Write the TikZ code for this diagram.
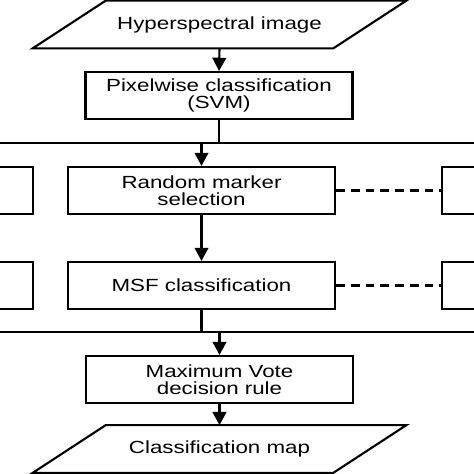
\documentclass[tikz,border=0pt]{standalone}
\usepackage{fontspec}
\setmainfont{Liberation Sans}[FakeStretch=1.27]
\usetikzlibrary{arrows.meta,positioning,calc}

\tikzset{
  stepbox/.style={draw, line width=1.2pt, minimum width=5.34cm, minimum height=0.94cm, align=center, inner sep=0pt},
  iobox/.style={minimum width=7.46cm, minimum height=0.94cm, inner sep=0pt},
  flow/.style={line width=1.2pt, -{Triangle[length=7.5pt,width=7.8pt]}},
  link/.style={line width=1.5pt, dash pattern=on 5pt off 3.4pt},
}

\begin{document}
\begin{tikzpicture}[x=0.02cm,y=-0.02cm,font=\fontsize{10}{9.8}\selectfont]
  \useasboundingbox (0,0) rectangle (474,474);
  \clip (0,0) rectangle (474,474);

  \node[draw, line width=1.2pt, minimum width=11cm, minimum height=3.78cm] (ens) at (237,237.5) {};

  \node[iobox] (img) at (219.5,24.5) {Hyperspectral image};
  \draw[line width=1.2pt] (img.south west) -- ($(img.north west)+(73,0)$) -- (img.north east) -- ($(img.south east)+(-73,0)$) -- cycle;

  \node[stepbox] (svm) at (219,95.5) {Pixelwise classification\\(SVM)};

  \node[stepbox] (rms) at (201.5,190.5) {Random marker\\selection};
  \node[stepbox] (rmsL) at (-100.5,190.5) {};
  \node[stepbox] (rmsR) at (575.5,190.5) {};

  \node[stepbox] (msf) at (201.5,285.5) {MSF classification};
  \node[stepbox] (msfL) at (-100.5,285.5) {};
  \node[stepbox] (msfR) at (575.5,285.5) {};

  \node[stepbox] (vote) at (219.5,379.5) {Maximum Vote\\decision rule};

  \node[iobox] (map) at (219.5,449) {Classification map};
  \draw[line width=1.2pt] (map.south west) -- ($(map.north west)+(73,0)$) -- (map.north east) -- ($(map.south east)+(-73,0)$) -- cycle;

  \draw[flow] (img.south) -- (svm.north);
  \draw[line width=1.2pt] (svm.south) -- (svm.south |- ens.north);
  \draw[flow] (rms.north |- ens.north) -- (rms.north);
  \draw[flow] (rms.south) -- (msf.north);
  \draw[line width=1.2pt] (msf.south) -- (msf.south |- ens.south);
  \draw[flow] (vote.north |- ens.south) -- (vote.north);
  \draw[flow] (vote.south) -- (map.north);

  \draw[link] (rms.east) -- (rmsR.west);
  \draw[link] (msf.east) -- (msfR.west);
\end{tikzpicture}
\end{document}
